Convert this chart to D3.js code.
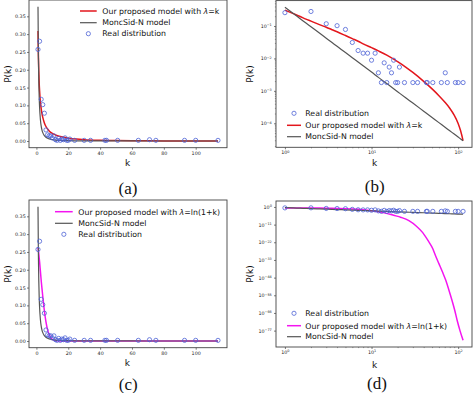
<!DOCTYPE html>
<html><head><meta charset="utf-8">
<script src="https://cdn.jsdelivr.net/npm/d3@7"></script>
<style>body{margin:0;background:#fff}svg{display:block}</style>
</head><body>
<svg id="c" width="474" height="393"></svg>
<script>
// ---- data ----
const realK = [1,2,3,4,5,6,7,8,9,10,11,12,13,14,15,16,17,18,19,20,21,24,30,34,43,44,51,64,71,75,93,100,114];
const realP = [0.257,0.280,0.117,0.102,0.078,0.031,0.0175,0.0145,0.0145,0.0088,0.0145,0.0036,0.0018,0.0073,0.0018,0.0054,0.0036,0.0088,0.0018,0.0018,0.0054,0.0018,0.0018,0.0018,0.0018,0.0018,0.0018,0.0018,0.0036,0.0018,0.0018,0.0018,0.0018];
const modelK = [1,1.25,1.5,1.75,2,2.5,3,3.5,4,5,6,7,8,10,12,15,20,25,30,40,50,60,70,80,90,100,107,114];
const moncsidP = [0.377,0.241,0.168,0.123,0.0943,0.0603,0.0419,0.0308,0.0236,0.0151,0.0105,0.0077,0.0059,0.0038,0.0026,0.00168,0.00094,0.0006,0.00042,0.000236,0.000151,0.000105,0.000077,0.000059,0.0000465,0.0000377,0.0000329,0.000029];
const lambdaKP = [0.309,0.240,0.195,0.162,0.141,0.110,0.0912,0.0767,0.0661,0.0507,0.0407,0.0339,0.0282,0.0214,0.0170,0.0126,0.00794,0.00531,0.00369,0.00196,0.00115,0.00071,0.000454,0.000292,0.000179,0.0000991,0.0000577,0.0000291];
const lnK = [1,1.5,2,2.5,3,3.5,4,5,6,7,8,9,10,12,14,18,22,27,33,39,45,51,55,60,66,72,78,85,91,97.5,105,114];
const lambdaLnP = [0.262,0.245,0.222,0.196,0.170,0.147,0.125,0.085,0.054,0.032,0.018,0.0095,0.0048,1.1e-3,2.0e-4,6e-6,3e-7,3e-9,1e-12,1e-16,1e-21,1e-26,3e-31,5e-36,3e-41,2e-46,3e-52,6e-59,1e-64,2e-71,1e-77,1e-83];
const linXTicks = [0,20,40,60,80,100];
const linYTicks = [0,0.05,0.10,0.15,0.20,0.25,0.30,0.35];
const logXTickExp = [0,1,2];
const logYTickExpB = [-1,-2,-3,-4];
const logYTickExpD = [0,-11,-22,-33,-44,-55,-66,-77];
const captions = ["(a)","(b)","(c)","(d)"];
const legendA = ["Our proposed model with ","k"];
const legendC = ["Our proposed model with ","ln(1+k)"];
const labelGray = "MoncSid-N model";
const labelReal = "Real distribution";

// ---- styling ----
const RED = "#e3161c", GRAY = "#555555", MAG = "#f414f0", BLUE = "#4d62d6", FRAME = "#444";
const FONT = "DejaVu Sans, sans-serif";
const svg = d3.select("#c");
const realPts = realK.map((k,i)=>[k,realP[i]]);
const grayPts = modelK.map((k,i)=>[k,moncsidP[i]]);
const redPts = modelK.map((k,i)=>[k,lambdaKP[i]]);
const magPts = lnK.map((k,i)=>[k,lambdaLnP[i]]);
const MINUS = "\u2212";

function logMinors(lo, hi){ const out=[]; for(let e=lo;e<=hi;e++) for(let m=2;m<=9;m++) out.push(m*Math.pow(10,e)); return out; }

let clipId = 0;
function panel(o){
  const g = svg.append("g");
  const x = (o.xLog ? d3.scaleLog() : d3.scaleLinear()).domain(o.xd).range([o.l,o.r]);
  const y = (o.yLog ? d3.scaleLog() : d3.scaleLinear()).domain(o.yd).range([o.b,o.t]);
  const id = "clip"+(clipId++);
  g.append("clipPath").attr("id",id).append("rect").attr("x",o.l).attr("y",o.t).attr("width",o.r-o.l).attr("height",o.b-o.t);
  const plot = g.append("g").attr("clip-path",`url(#${id})`);
  const line = d3.line().x(d=>x(d[0])).y(d=>y(d[1])).curve(d3.curveMonotoneX);
  o.lines.forEach(s=>{
    plot.append("path").attr("d",line(s.pts)).attr("fill","none").attr("stroke",s.color).attr("stroke-width",s.w).attr("stroke-linejoin","round");
  });
  plot.selectAll("circle.r").data(realPts).enter().append("circle")
    .attr("cx",d=>x(d[0])).attr("cy",d=>y(d[1])).attr("r",2.1)
    .attr("fill","none").attr("stroke",BLUE).attr("stroke-width",0.8);
  // axes
  const ax = g.append("g").attr("transform",`translate(0,${o.b})`);
  const ay = g.append("g").attr("transform",`translate(${o.l},0)`);
  if(o.xLog){
    ax.call(d3.axisBottom(x).tickValues(logXTickExp.map(e=>Math.pow(10,e))).tickSize(2).tickSizeOuter(0).tickPadding(1.6).tickFormat(""));
    ax.selectAll(".tick text").each(function(d){ supLabel(d3.select(this), Math.round(Math.log10(d))); });
    const mx = g.append("g").attr("transform",`translate(0,${o.b})`);
    mx.call(d3.axisBottom(x).tickValues(logMinors(0,2).filter(v=>v<x.domain()[1])).tickSize(1.1).tickSizeOuter(0).tickFormat(""));
    mx.select(".domain").remove(); mx.selectAll("line").attr("stroke",FRAME).attr("stroke-width",0.5);
  } else {
    ax.call(d3.axisBottom(x).tickValues(linXTicks).tickSize(2).tickSizeOuter(0).tickPadding(1.6).tickFormat(d3.format("d")));
  }
  if(o.yLog){
    const ex = o.yExp;
    ay.call(d3.axisLeft(y).tickValues(ex.map(e=>Math.pow(10,e))).tickSize(2).tickSizeOuter(0).tickPadding(2.2).tickFormat(""));
    ay.selectAll(".tick text").each(function(d,i){ supLabel(d3.select(this), ex[i]); });
    if(o.yMinor){
      const my = g.append("g").attr("transform",`translate(${o.l},0)`);
      my.call(d3.axisLeft(y).tickValues(logMinors(-5,-1).filter(v=>v>y.domain()[0]&&v<y.domain()[1])).tickSize(1.1).tickSizeOuter(0).tickFormat(""));
      my.select(".domain").remove(); my.selectAll("line").attr("stroke",FRAME).attr("stroke-width",0.5);
    }
  } else {
    ay.call(d3.axisLeft(y).tickValues(linYTicks).tickSize(2).tickSizeOuter(0).tickPadding(1.3).tickFormat(d3.format(".2f")));
  }
  [ax,ay].forEach(a=>{
    a.select(".domain").remove();
    a.selectAll(".tick line").attr("stroke",FRAME).attr("stroke-width",0.7);
    a.selectAll(".tick text").attr("font-size",4.8).attr("font-family",FONT).attr("fill","#222");
  });
  // frame
  g.append("rect").attr("x",o.l).attr("y",o.t).attr("width",o.r-o.l).attr("height",o.b-o.t)
    .attr("fill","none").attr("stroke",FRAME).attr("stroke-width",0.9);
  // axis labels
  g.append("text").attr("x",o.kx).attr("y",o.ky).attr("text-anchor","middle").attr("dominant-baseline","central")
    .attr("font-family",FONT).attr("font-size",9).attr("fill","#111").text("k");
  g.append("text").attr("transform",`translate(${o.px},${o.py}) rotate(-90)`).attr("text-anchor","middle").attr("dominant-baseline","central")
    .attr("font-family",FONT).attr("font-size",9).attr("fill","#111").text("P(k)");
  // legend
  const lg = g.append("g");
  o.legend.forEach((it,i)=>{
    const yy = o.lg.rows[i];
    if(it.type==="line"){
      lg.append("line").attr("x1",o.lg.x1).attr("x2",o.lg.x2).attr("y1",yy).attr("y2",yy).attr("stroke",it.color).attr("stroke-width",it.w);
    } else {
      lg.append("circle").attr("cx",(o.lg.x1+o.lg.x2)/2).attr("cy",yy).attr("r",2.1).attr("fill","none").attr("stroke",BLUE).attr("stroke-width",0.8);
    }
    const t = lg.append("text").attr("x",o.lg.tx).attr("y",yy).attr("dominant-baseline","central")
      .attr("font-family",FONT).attr("font-size",7.8).attr("fill","#111");
    if(it.lambda){
      t.append("tspan").text(it.lambda[0]);
      t.append("tspan").attr("font-style","italic").text("\u03bb");
      t.append("tspan").text("="+it.lambda[1]);
    } else t.text(it.label);
  });
  // caption
  svg.append("text").attr("x",o.cx).attr("y",o.cy).attr("text-anchor","middle").attr("dominant-baseline","central")
    .attr("font-family","Liberation Serif, serif").attr("font-size",17).attr("fill","#111").text(o.caption);
}
function supLabel(t, e){
  t.text("");
  t.append("tspan").text("10");
  t.append("tspan").attr("dy","-0.45em").attr("font-size","0.72em").text(e<0 ? MINUS+Math.abs(e) : String(e));
}

const linX = [-4.65,119.65], linY = [-0.0188,0.3958];
const logX = [Math.pow(10,-0.103), Math.pow(10,2.16)];

panel({l:29,r:227,t:0,b:147.7,xd:linX,yd:linY,
  lines:[{pts:redPts,color:RED,w:1.5},{pts:grayPts,color:GRAY,w:1.2}],
  kx:127.5,ky:163,px:8,py:74,
  legend:[{type:"line",color:RED,w:1.5,lambda:legendA},{type:"line",color:GRAY,w:1.2,label:labelGray},{type:"marker",label:labelReal}],
  lg:{x1:80,x2:96.7,tx:102.3,rows:[11,22.7,33.7]},
  cx:128,cy:188,caption:captions[0]});

panel({l:276,r:472,t:0.6,b:147.3,xLog:true,yLog:true,xd:logX,yd:[Math.pow(10,-4.74),Math.pow(10,-0.218)],yExp:logYTickExpB,yMinor:true,
  lines:[{pts:redPts,color:RED,w:1.5},{pts:grayPts,color:GRAY,w:1.2}],
  kx:374.7,ky:163,px:250.3,py:74,
  legend:[{type:"marker",label:labelReal},{type:"line",color:RED,w:1.5,lambda:legendA},{type:"line",color:GRAY,w:1.2,label:labelGray}],
  lg:{x1:287,x2:301,tx:305.3,rows:[113.3,125.3,136.7]},
  cx:374.7,cy:186.7,caption:captions[1]});

panel({l:29,r:227,t:200,b:347.7,xd:linX,yd:linY,
  lines:[{pts:magPts,color:MAG,w:1.5},{pts:grayPts,color:GRAY,w:1.2}],
  kx:127.3,ky:363.3,px:8,py:274,
  legend:[{type:"line",color:MAG,w:1.5,lambda:legendC},{type:"line",color:GRAY,w:1.2,label:labelGray},{type:"marker",label:labelReal}],
  lg:{x1:55,x2:72.7,tx:78.3,rows:[211.7,223.3,234.3]},
  cx:128.3,cy:384,caption:captions[2]});

panel({l:276,r:472,t:201,b:347,xLog:true,yLog:true,xd:logX,yd:[Math.pow(10,-87.2),Math.pow(10,3.7)],yExp:logYTickExpD,
  lines:[{pts:magPts,color:MAG,w:1.5},{pts:grayPts,color:GRAY,w:1.2}],
  kx:374.7,ky:365,px:250.3,py:274,
  legend:[{type:"marker",label:labelReal},{type:"line",color:MAG,w:1.5,lambda:legendC},{type:"line",color:GRAY,w:1.2,label:labelGray}],
  lg:{x1:287,x2:301,tx:305.3,rows:[313.3,325.7,336.7]},
  cx:377,cy:383,caption:captions[3]});
</script>
</body></html>
